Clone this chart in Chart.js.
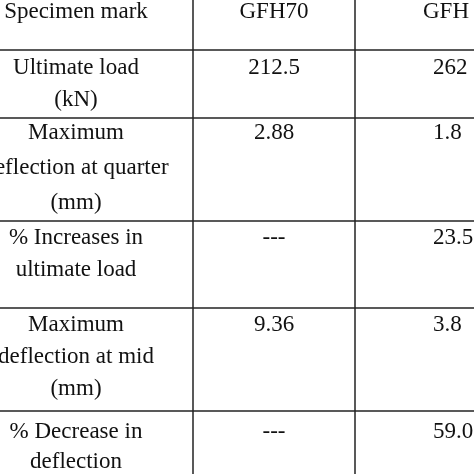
<!DOCTYPE html>
<html>
<head>
<meta charset="utf-8">
<script src="https://cdn.jsdelivr.net/npm/chart.js@4"></script>
<style>
  html, body { margin: 0; padding: 0; background: #fff; }
  #wrap { width: 474px; height: 474px; }
</style>
</head>
<body>
<div id="wrap"><canvas id="tbl"></canvas></div>
<script>
// table content
const rowLabels = [
  ['Specimen mark'],
  ['Ultimate load', '(kN)'],
  ['Maximum', 'deflection at quarter', '(mm)'],
  ['% Increases in', 'ultimate load'],
  ['Maximum', 'deflection at mid', '(mm)'],
  ['% Decrease in', 'deflection']
];
const colGFH70 = ['GFH70', '212.5', '2.88', '---', '9.36', '---'];
const colGFH2 = ['GFH', '262', '1.8', '23.5', '3.8', '59.0'];

// layout in pixels
const hLines = [50, 118, 221, 308, 411];
const vLines = [193, 355];
const firstLineY = [12, 68, 133, 238, 325, 432];
const lineGap = [0, 32, 35, 32, 32, 30];

const tablePlugin = {
  id: 'tablePlugin',
  afterDraw(chart) {
    const ctx = chart.ctx;
    ctx.save();
    ctx.fillStyle = '#fff';
    ctx.fillRect(0, 0, chart.width, chart.height);
    ctx.strokeStyle = '#222';
    ctx.lineWidth = 1.5;
    hLines.forEach(y => {
      ctx.beginPath(); ctx.moveTo(0, y); ctx.lineTo(chart.width, y); ctx.stroke();
    });
    vLines.forEach(x => {
      ctx.beginPath(); ctx.moveTo(x, 0); ctx.lineTo(x, chart.height); ctx.stroke();
    });
    ctx.fillStyle = '#111';
    ctx.font = '23px "Liberation Serif", serif';
    ctx.textBaseline = 'middle';
    rowLabels.forEach((lines, i) => {
      ctx.textAlign = 'center';
      lines.forEach((t, j) => ctx.fillText(t, 76, firstLineY[i] + j * lineGap[i]));
      ctx.fillText(colGFH70[i], 274, firstLineY[i]);
      ctx.textAlign = 'left';
      ctx.fillText(colGFH2[i], i === 0 ? 423 : 433, firstLineY[i]);
    });
    ctx.restore();
  }
};

new Chart(document.getElementById('tbl'), {
  type: 'bar',
  data: { labels: [''], datasets: [{ data: [0] }] },
  options: {
    responsive: true,
    maintainAspectRatio: false,
    animation: false,
    plugins: { legend: { display: false }, tooltip: { enabled: false } },
    scales: { x: { display: false }, y: { display: false } }
  },
  plugins: [tablePlugin]
});
</script>
</body>
</html>
